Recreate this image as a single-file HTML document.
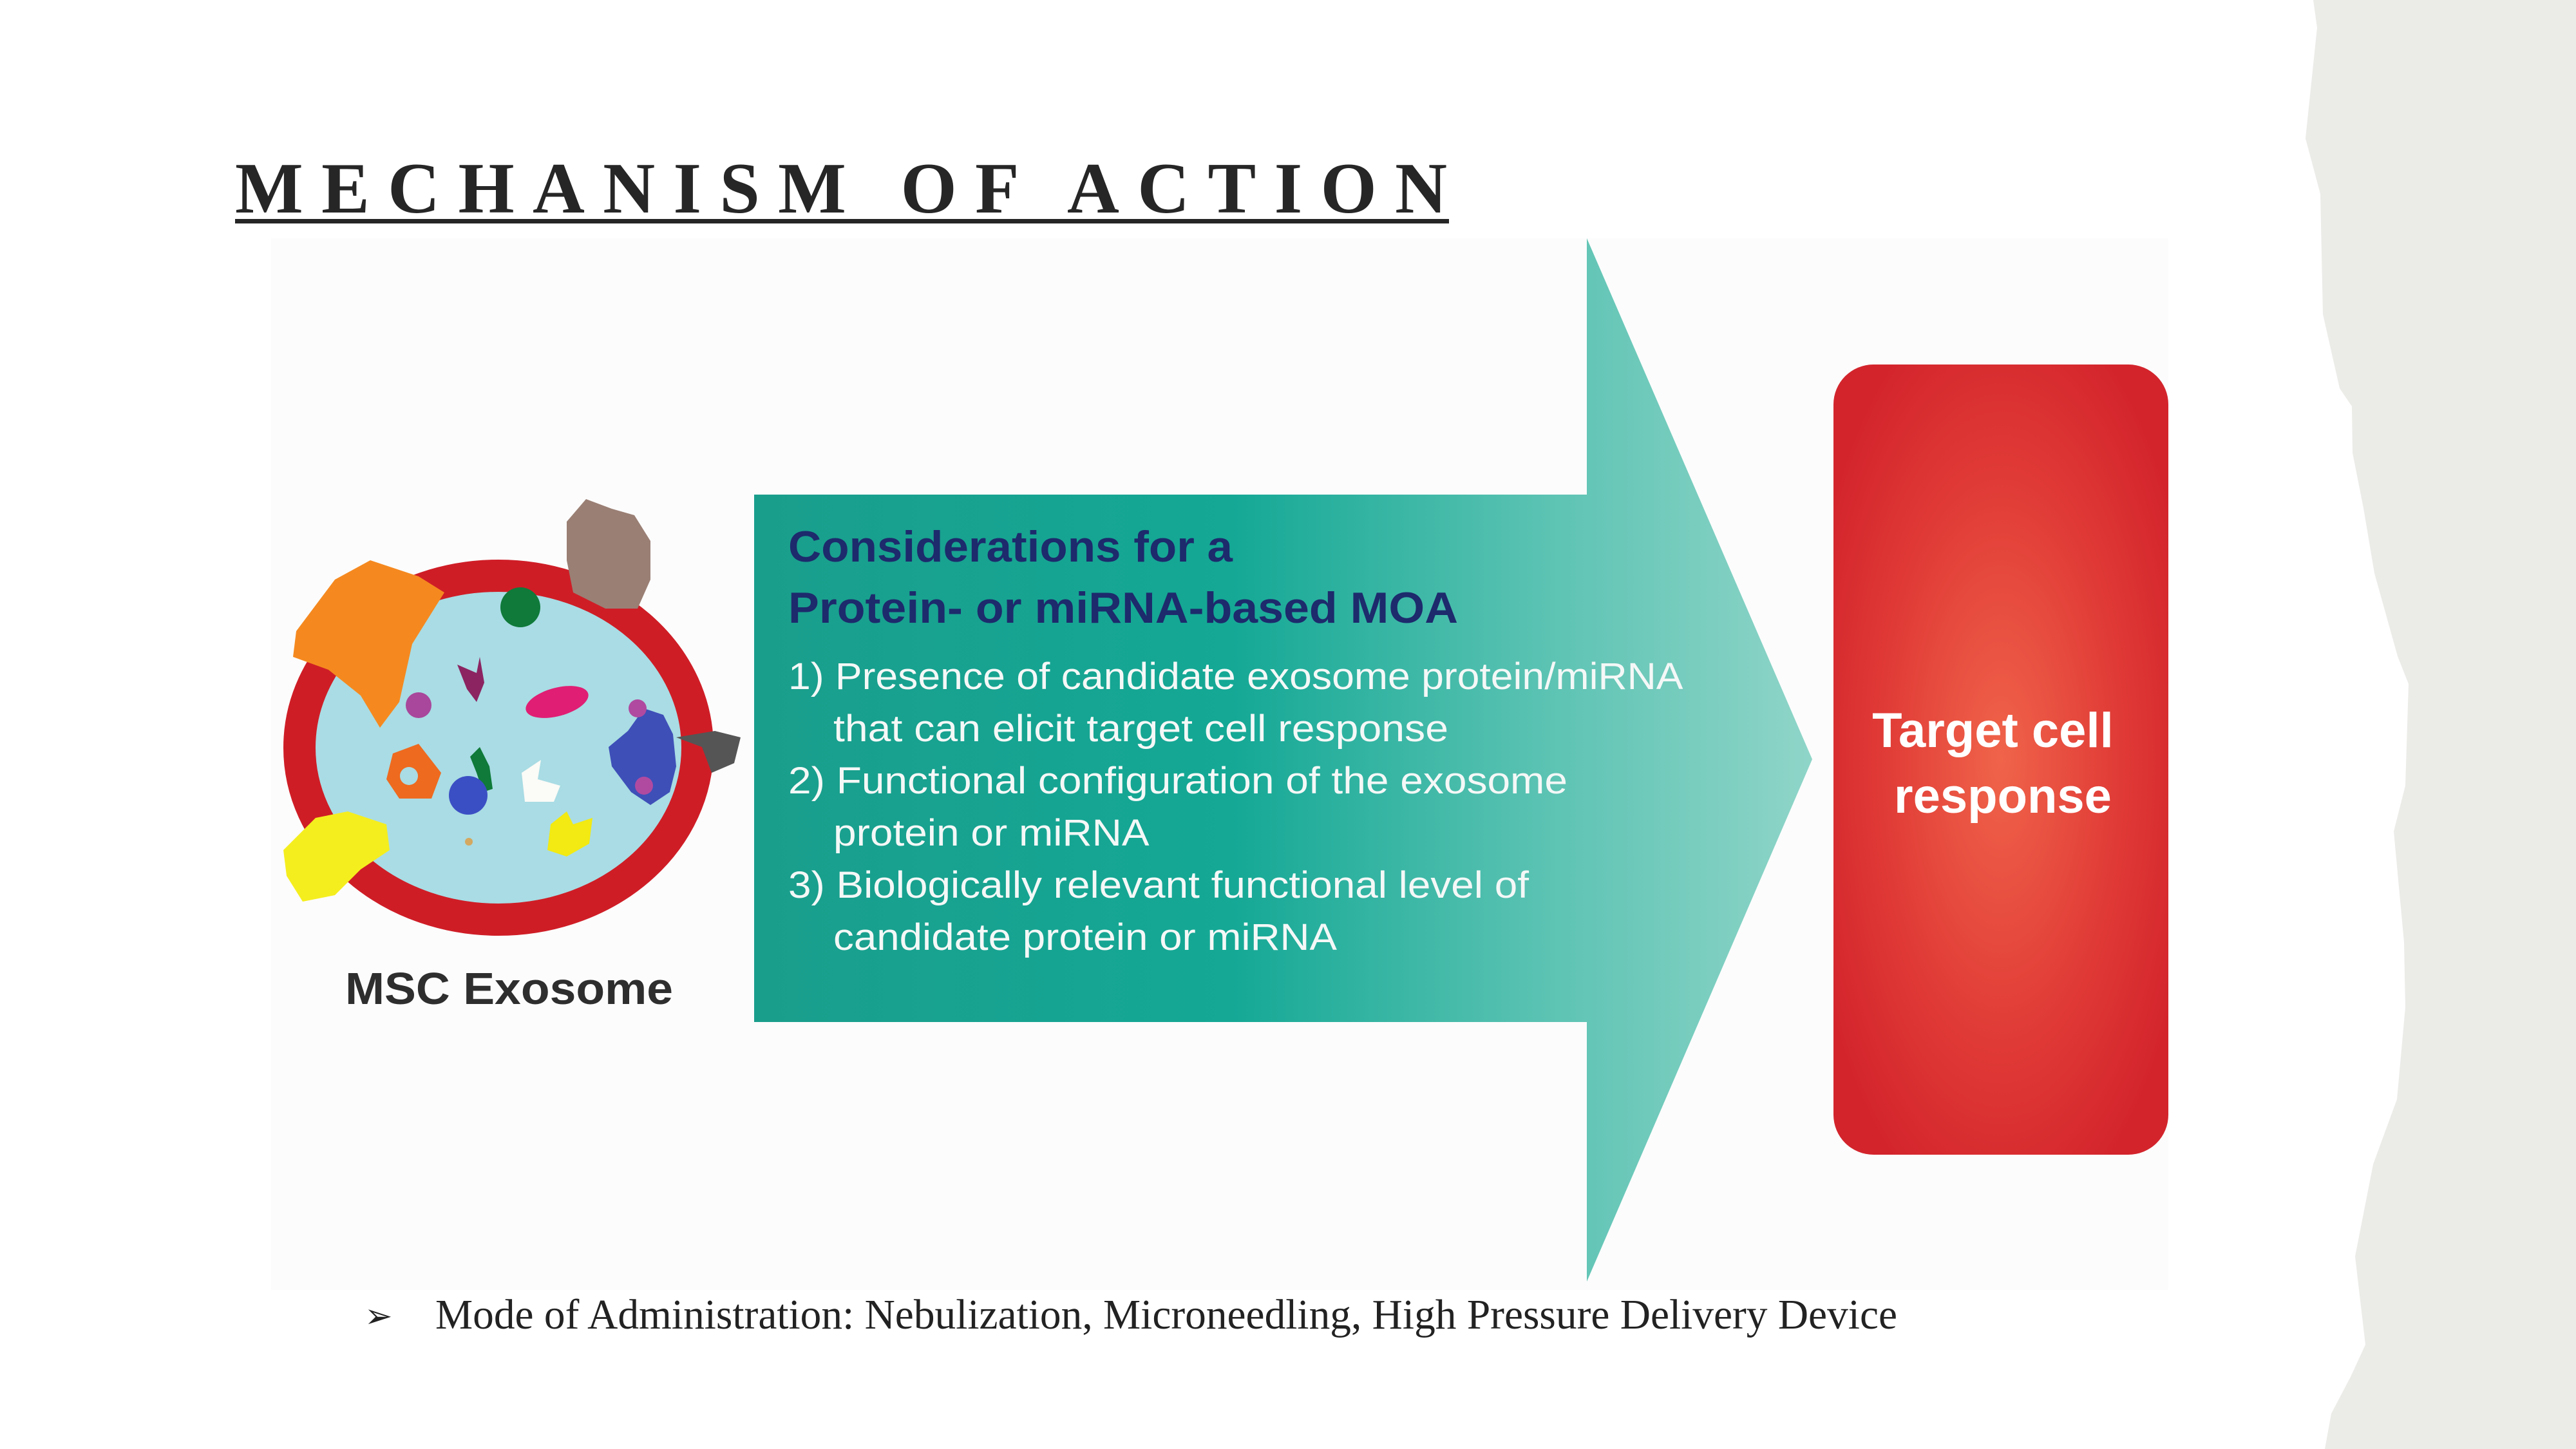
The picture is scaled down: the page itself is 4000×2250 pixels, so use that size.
<!DOCTYPE html>
<html><head><meta charset="utf-8"><style>
html,body{margin:0;padding:0;background:#fff;}
svg{display:block;}
</style></head><body>
<svg width="4000" height="2250" viewBox="0 0 4000 2250" xmlns="http://www.w3.org/2000/svg">
<defs>
<linearGradient id="ag" x1="1171" y1="0" x2="2814" y2="0" gradientUnits="userSpaceOnUse">
<stop offset="0" stop-color="#1a9e8c"/><stop offset="0.45" stop-color="#14a895"/><stop offset="0.75" stop-color="#5cc3b3"/><stop offset="1" stop-color="#8fd5c8"/>
</linearGradient>
<radialGradient id="rg" cx="0.5" cy="0.5" r="0.6">
<stop offset="0" stop-color="#f0644a"/><stop offset="0.6" stop-color="#e03a36"/><stop offset="1" stop-color="#d3242c"/>
</radialGradient>
</defs>
<rect width="4000" height="2250" fill="#fff"/>
<rect x="421" y="370" width="2946" height="1633" fill="#fcfcfc"/>
<polygon fill="#ebebe8" points="3592,0 3598,43 3580,215 3603,301 3607,488 3633,603 3652,631 3653,703 3670,789 3687,890 3723,1019 3740,1062 3735,1220 3717,1291 3733,1463 3735,1564 3722,1707 3685,1808 3657,1951 3673,2088 3650,2138 3620,2195 3610,2250 4000,2250 4000,0"/>
<text x="365" y="330" font-family="Liberation Serif, serif" font-weight="bold" font-size="112" fill="#262626" textLength="1882" lengthAdjust="spacing">MECHANISM OF ACTION</text>
<rect x="365" y="340" width="1885" height="7" fill="#262626"/>
<polygon fill="url(#ag)" points="1171,768 2464,768 2464,370 2814,1179 2464,1990 2464,1587 1171,1587"/>
<text font-family="Liberation Sans, sans-serif" font-weight="bold" font-size="68" fill="#1d2a6c">
<tspan x="1224" y="872" textLength="690" lengthAdjust="spacingAndGlyphs">Considerations for a</tspan>
<tspan x="1224" y="967" textLength="1040" lengthAdjust="spacingAndGlyphs">Protein- or miRNA-based MOA</tspan>
</text>
<text font-family="Liberation Sans, sans-serif" font-size="58" fill="#f4f8f7">
<tspan x="1224" y="1070" textLength="1386" lengthAdjust="spacingAndGlyphs">1) Presence of candidate exosome protein/miRNA</tspan>
<tspan x="1294" y="1151" textLength="955" lengthAdjust="spacingAndGlyphs">that can elicit  target cell response</tspan>
<tspan x="1224" y="1232" textLength="1210" lengthAdjust="spacingAndGlyphs">2) Functional configuration of the exosome</tspan>
<tspan x="1294" y="1313" textLength="487" lengthAdjust="spacingAndGlyphs">protein or miRNA</tspan>
<tspan x="1224" y="1394" textLength="1150" lengthAdjust="spacingAndGlyphs">3) Biologically relevant functional level of</tspan>
<tspan x="1294" y="1475" textLength="782" lengthAdjust="spacingAndGlyphs">candidate protein or miRNA</tspan>
</text>
<rect x="2847" y="566" width="520" height="1227" rx="62" fill="url(#rg)"/>
<text font-family="Liberation Sans, sans-serif" font-weight="bold" font-size="76" fill="#fff" text-anchor="middle">
<tspan x="3105" y="1160">Target cell</tspan>
<tspan x="3110" y="1262">response</tspan>
</text>
<ellipse cx="774" cy="1161" rx="309" ry="267" fill="#a9dce4" stroke="#cf1d26" stroke-width="50"/>
<g transform="translate(0,-40)">
<path d="M460,1020 L520,940 L575,910 L650,935 L690,960 L640,1040 L620,1130 L590,1170 L560,1120 L510,1080 L455,1060Z" fill="#f5891f"/>
<path d="M880,850 L910,815 L950,830 L985,840 L1010,880 L1010,940 L990,985 L940,985 L890,960 L880,910Z" fill="#9a7f74"/>
<circle cx="808" cy="983" r="31" fill="#0f7a3a"/>
<path d="M440,1360 L490,1310 L540,1300 L600,1320 L605,1360 L560,1390 L520,1430 L470,1440 L445,1400Z" fill="#f5ee1e"/>
<path d="M1050,1185 L1110,1175 L1150,1185 L1140,1225 L1105,1240 L1090,1200 Z" fill="#555"/>
<path d="M1000,1140 L1030,1150 L1045,1180 L1050,1230 L1040,1270 L1010,1290 L980,1270 L950,1230 L945,1200 L975,1175Z" fill="#3e4fb8"/>
<circle cx="1000" cy="1260" r="14" fill="#b04aa0"/>
<circle cx="990" cy="1140" r="14" fill="#b04aa0"/>
<ellipse cx="865" cy="1130" rx="50" ry="22" transform="rotate(-15 865 1130)" fill="#e01e74"/>
<circle cx="650" cy="1135" r="20" fill="#a8479b"/>
<path d="M710,1072 L740,1085 L745,1060 L752,1100 L740,1130 L725,1110Z" fill="#8c2462"/>
<path d="M610,1210 L650,1195 L685,1240 L670,1280 L620,1280 L600,1250Z" fill="#ee6a1f"/>
<circle cx="635" cy="1245" r="14" fill="#a9dce4"/>
<path d="M730,1215 L745,1200 L760,1230 L765,1265 L750,1270 L740,1240Z" fill="#0f7a3a"/>
<path d="M810,1240 L840,1220 L835,1250 L870,1260 L860,1285 L815,1285Z" fill="#fbfbf7"/>
<circle cx="727" cy="1275" r="30" fill="#3b4fc4"/>
<path d="M855,1320 L880,1300 L890,1320 L920,1310 L915,1350 L880,1370 L850,1360Z" fill="#f2ea12"/>
<circle cx="728" cy="1347" r="6" fill="#d4a860"/>
</g>
<text x="536" y="1559" font-family="Liberation Sans, sans-serif" font-weight="bold" font-size="70" fill="#2e2e2e" textLength="509" lengthAdjust="spacingAndGlyphs">MSC Exosome</text>
<text x="566" y="2061" font-family="DejaVu Sans, sans-serif" font-size="52" fill="#222">➢</text>
<text x="676" y="2063" font-family="Liberation Serif, serif" font-size="66" fill="#222" textLength="2270" lengthAdjust="spacingAndGlyphs">Mode of Administration: Nebulization, Microneedling, High Pressure Delivery Device</text>
</svg>
</body></html>
